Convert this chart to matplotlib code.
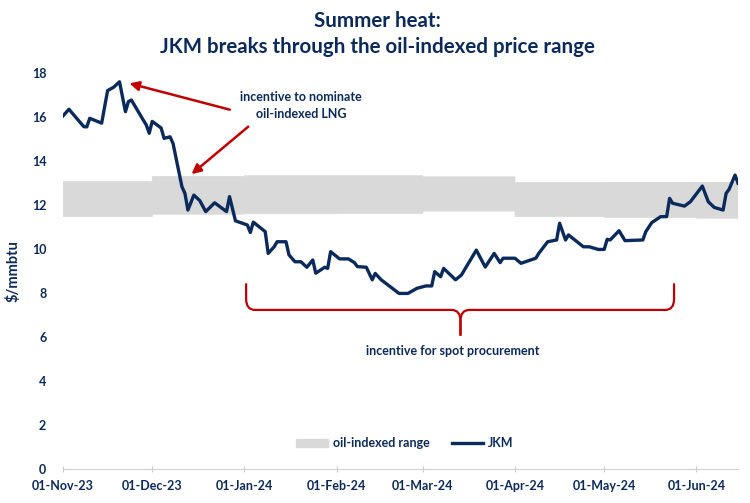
"""JKM vs oil-indexed range"""
import matplotlib
matplotlib.use('Agg')
import matplotlib.pyplot as plt
import matplotlib.dates as mdates
from matplotlib.path import Path
from matplotlib.patches import PathPatch, Patch
from matplotlib.lines import Line2D
import numpy as np
import pandas as pd

NAVY = '#0B2A5C'
RED = '#C00000'
GREY = '#D9D9D9'

# JKM spot price, $/mmbtu
JKM_DATES = ['2023-11-01', '2023-11-03', '2023-11-08', '2023-11-09', '2023-11-10',
             '2023-11-14', '2023-11-16', '2023-11-18', '2023-11-20', '2023-11-22',
             '2023-11-23', '2023-11-24', '2023-11-28', '2023-11-29', '2023-11-30',
             '2023-12-01', '2023-12-04', '2023-12-05', '2023-12-07', '2023-12-08',
             '2023-12-11', '2023-12-12', '2023-12-13', '2023-12-15', '2023-12-17',
             '2023-12-19', '2023-12-22', '2023-12-26', '2023-12-27', '2023-12-29',
             '2024-01-02', '2024-01-03', '2024-01-04', '2024-01-08', '2024-01-09',
             '2024-01-11', '2024-01-12', '2024-01-15', '2024-01-16', '2024-01-18',
             '2024-01-20', '2024-01-22', '2024-01-24', '2024-01-25', '2024-01-28',
             '2024-01-29', '2024-01-30', '2024-02-02', '2024-02-05', '2024-02-07',
             '2024-02-08', '2024-02-11', '2024-02-13', '2024-02-14', '2024-02-16',
             '2024-02-19', '2024-02-22', '2024-02-25', '2024-02-28', '2024-03-02',
             '2024-03-04', '2024-03-05', '2024-03-07', '2024-03-08', '2024-03-12',
             '2024-03-14', '2024-03-19', '2024-03-22', '2024-03-25', '2024-03-27',
             '2024-03-28', '2024-04-01', '2024-04-03', '2024-04-08', '2024-04-09',
             '2024-04-12', '2024-04-15', '2024-04-16', '2024-04-18', '2024-04-19',
             '2024-04-24', '2024-04-26', '2024-04-29', '2024-05-01', '2024-05-02',
             '2024-05-03', '2024-05-06', '2024-05-08', '2024-05-14', '2024-05-15',
             '2024-05-17', '2024-05-20', '2024-05-22', '2024-05-23', '2024-05-24',
             '2024-05-28', '2024-05-30', '2024-06-03', '2024-06-05', '2024-06-07',
             '2024-06-10', '2024-06-11', '2024-06-12', '2024-06-14', '2024-06-15']
JKM_VALUES = [16.05, 16.35, 15.56, 15.55, 15.94,
              15.72, 17.2, 17.35, 17.6, 16.24,
              16.7, 16.77, 15.86, 15.64, 15.26,
              15.8, 15.5, 15.03, 15.1, 14.8,
              12.83, 12.53, 11.77, 12.45, 12.2,
              11.7, 12.1, 11.7, 12.38, 11.28,
              11.09, 10.75, 11.22, 10.79, 9.8,
              10.1, 10.33, 10.33, 9.73, 9.42,
              9.42, 9.17, 9.5, 8.9, 9.17,
              9.12, 9.88, 9.55, 9.55, 9.38,
              9.2, 9.17, 8.6, 8.89, 8.6,
              8.29, 7.98, 7.98, 8.21, 8.32,
              8.32, 8.97, 8.74, 9.12, 8.6,
              8.82, 9.95, 9.18, 9.8, 9.38,
              9.58, 9.58, 9.35, 9.58, 9.8,
              10.33, 10.41, 11.17, 10.41, 10.64,
              10.1, 10.1, 9.98, 9.98, 10.44,
              10.41, 10.83, 10.38, 10.41, 10.79,
              11.2, 11.47, 11.47, 12.3, 12.08,
              11.95, 12.15, 12.86, 12.15, 11.89,
              11.77, 12.53, 12.71, 13.36, 12.99]

# oil-indexed price range, monthly (each value holds until the next date)
BAND_DATES = ['2023-11-01', '2023-12-01', '2024-01-01', '2024-02-01', '2024-03-01',
              '2024-04-01', '2024-05-01', '2024-06-01', '2024-06-15']
BAND_LOW = [11.47, 11.58, 11.60, 11.62, 11.72, 11.47, 11.43, 11.40]
BAND_HIGH = [13.06, 13.30, 13.33, 13.33, 13.28, 13.02, 13.03, 13.03]

plt.rcParams['font.family'] = ['Lato', 'DejaVu Sans']
plt.rcParams['font.weight'] = 'bold'

jkm_d = pd.to_datetime(JKM_DATES)
band_x = mdates.date2num(pd.to_datetime(BAND_DATES))

fig = plt.figure(figsize=(7.5, 5.03), dpi=100)
ax = fig.add_axes([0.084, 0.0676, 0.9, 0.7873])

# stepped band: one polygon, along the top, then back along the bottom
sx = np.repeat(band_x, 2)[1:-1]
top_y = np.repeat(BAND_HIGH, 2)
low_y = np.repeat(BAND_LOW, 2)
band = ax.fill(np.concatenate([sx, sx[::-1]]), np.concatenate([top_y, low_y[::-1]]),
               fc=GREY, ec=GREY, lw=0.5)[0]
band.set_snap(False)
ax.plot(jkm_d, JKM_VALUES, color=NAVY, lw=2.4, solid_joinstyle='round')

ax.set_xlim(pd.Timestamp('2023-11-01'), pd.Timestamp('2024-06-15'))
ax.set_ylim(0, 18)
ax.set_yticks(range(0, 19, 2))
ax.xaxis.set_major_locator(mdates.MonthLocator())
ax.xaxis.set_major_formatter(mdates.DateFormatter('%d-%b-%y'))
ax.grid(False)

for s in ['top', 'right', 'left']:
    ax.spines[s].set_visible(False)
ax.spines['bottom'].set_color('#D0D0D0')
ax.tick_params(axis='x', colors='#C8C8C8', length=4, direction='inout', pad=6)
ax.tick_params(axis='y', length=0, pad=12)
for lab in ax.get_xticklabels() + ax.get_yticklabels():
    lab.set_color(NAVY)
    lab.set_fontsize(9)
    lab.set_fontweight('bold')
ax.set_ylabel('$/mmbtu', color=NAVY, fontsize=10.5, fontweight='bold', labelpad=8)

fig.text(0.503, 0.958, 'Summer heat:', ha='center', va='center',
         fontsize=14.8, color=NAVY, fontweight='bold')
fig.text(0.503, 0.907, 'JKM breaks through the oil-indexed price range', ha='center',
         va='center', fontsize=14.8, color=NAVY, fontweight='bold')

# annotations
num = lambda s: mdates.date2num(pd.Timestamp(s))
ax.text(num('2024-01-20'), 16.5, 'incentive to nominate\noil-indexed LNG', ha='center',
        va='center', fontsize=9, color=NAVY, fontweight='bold', linespacing=1.5)
arrow = dict(arrowstyle='-|>', color=RED, lw=1.8, mutation_scale=14)
ax.annotate('', xy=(num('2023-11-22 10:00'), 17.56), xytext=(num('2023-12-28'), 16.3),
            arrowprops=arrow)
ax.annotate('', xy=(num('2023-12-13 12:00'), 13.32), xytext=(num('2024-01-03'), 15.64),
            arrowprops=arrow)

# curly bracket
L, C, R = num('2024-01-01 14:00'), num('2024-03-13 16:00'), num('2024-05-24 12:00')
top, yh, tip, d, dy = 8.44, 7.23, 6.06, 3.0, 0.5
for a, s in [(L, 1), (R, -1)]:
    verts = [(a, top), (a, yh + dy), (a, yh), (a + s * d, yh),
             (C - s * d, yh), (C, yh), (C, yh - dy), (C, tip)]
    codes = [Path.MOVETO, Path.LINETO, Path.CURVE3, Path.CURVE3,
             Path.LINETO, Path.CURVE3, Path.CURVE3, Path.LINETO]
    ax.add_patch(PathPatch(Path(verts, codes), fill=False, ec=RED, lw=1.6))
ax.text(num('2024-03-11'), 5.36, 'incentive for spot procurement', ha='center',
        va='center', fontsize=9, color=NAVY, fontweight='bold')

handles = [Patch(color=GREY, label='oil-indexed range'),
           Line2D([], [], color=NAVY, lw=2.4, label='JKM')]
leg = fig.legend(handles=handles, loc='center', bbox_to_anchor=(0.54, 0.119), ncol=2,
                 frameon=False, fontsize=9, handlelength=2.5, handleheight=0.6,
                 columnspacing=1.8, handletextpad=0.4)
for t in leg.get_texts():
    t.set_color(NAVY)

fig.savefig('out.png', dpi=100)
